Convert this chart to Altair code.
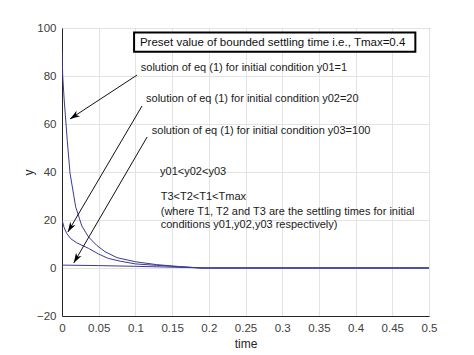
import math
import altair as alt
import pandas as pd

# ---- data ----
t03 = [0, 0.001, 0.003, 0.0055, 0.0072, 0.011, 0.0186, 0.027, 0.036, 0.047, 0.0586, 0.075, 0.1, 0.129, 0.16, 0.19, 0.5]
y03 = [90, 80, 70, 60, 53, 39.4, 25.5, 17.5, 13, 9.5, 6.8, 4.3, 2.6, 1.4, 0.6, 0, 0]

t02 = [0, 0.003, 0.0064, 0.012, 0.02, 0.036, 0.05, 0.063, 0.08, 0.1, 0.129, 0.16, 0.19, 0.5]
y02 = [20, 16.8, 14.4, 12.2, 10.5, 8.2, 5.8, 4.0, 2.8, 1.7, 1.1, 0.5, 0, 0]

t01 = [0, 0.05, 0.1, 0.15, 0.2, 0.5]
y01 = [1.2, 1.0, 0.7, 0.35, 0, 0]

x_ticks = [0, 0.05, 0.1, 0.15, 0.2, 0.25, 0.3, 0.35, 0.4, 0.45, 0.5]
y_ticks = [-20, 0, 20, 40, 60, 80, 100]

box_text = "Preset value of bounded settling time i.e., Tmax=0.4"
box_x = [0.0982, 0.4814]
box_y = [90.1, 98.1]
box_text_pos = [0.1062, 93.6]

label_texts = [
    "solution of eq (1) for initial condition y01=1",
    "solution of eq (1) for initial condition y02=20",
    "solution of eq (1) for initial condition y03=100",
    "y01<y02<y03",
    "T3<T2<T1<Tmax",
    "(where T1, T2 and T3 are the settling times for initial",
    "conditions y01,y02,y03 respectively)",
]
label_x = [0.1073, 0.1145, 0.1223, 0.1336, 0.1345, 0.1345, 0.1345]
label_y = [83.2, 70.3, 57.2, 39.9, 29.7, 23.5, 17.9]

arrow_x0 = [0.1023, 0.109, 0.116]
arrow_y0 = [80.4, 67.5, 54.6]
arrow_x1 = [0.0109, 0.008, 0.016]
arrow_y1 = [62.1, 15.0, 2.1]

# ---- layout ----
W, H = 367, 288
XD = [0, 0.5]
YD = [-20, 100]
FONT = "Liberation Sans"

rows = []
for name, ts, ys in (("y03", t03, y03), ("y02", t02, y02), ("y01", t01, y01)):
    for t, v in zip(ts, ys):
        rows.append({"series": name, "t": t, "y": v})
curves = pd.DataFrame(rows)

xs = alt.Scale(domain=XD, nice=False, zero=False)
ys_ = alt.Scale(domain=YD, nice=False, zero=False)

X_AX = alt.Axis(values=x_ticks, format="~g", title="time", grid=True,
                gridColor="#e3e3e3", domainColor="#262626", tickSize=0,
                labelFont=FONT, labelFontSize=11.5, labelColor="#404040",
                labelPadding=6, labelOverlap=False, labelFlush=False,
                titleFont=FONT, titleFontSize=12,
                titleFontWeight="normal", titleColor="#262626",
                titleX=W / 2, titleY=27, titleBaseline="middle")
Y_AX = alt.Axis(values=y_ticks, title="y", grid=True, gridColor="#e3e3e3",
                domainColor="#262626", tickSize=0, labelFont=FONT,
                labelFontSize=11.5, labelColor="#404040", labelPadding=6,
                labelOverlap=False, labelFlush=False,
                titleFont=FONT, titleFontSize=12, titleFontWeight="normal",
                titleColor="#262626", titleX=-34, titleY=H / 2,
                titleAngle=270, titleAlign="center", titleBaseline="middle")


def X(field):
    return alt.X(field, scale=xs, axis=X_AX, title="time")


def Y(field):
    return alt.Y(field, scale=ys_, axis=Y_AX, title="y")


lines = alt.Chart(curves).mark_line(strokeWidth=1, color="#3a3a92", clip=True).encode(
    x=X("t:Q"), y=Y("y:Q"), detail="series:N", order="t:Q")

box_df = pd.DataFrame({"x": [box_x[0]], "x2": [box_x[1]], "y": [box_y[0]], "y2": [box_y[1]]})
box = alt.Chart(box_df).mark_rect(fill="white", stroke="black", strokeWidth=2).encode(
    x=X("x:Q"), x2="x2", y=Y("y:Q"), y2="y2")

box_txt = alt.Chart(pd.DataFrame({"x": [box_text_pos[0]], "y": [box_text_pos[1]], "s": [box_text]})).mark_text(
    align="left", baseline="middle", font=FONT, fontSize=11.5, color="#111111").encode(
    x=X("x:Q"), y=Y("y:Q"), text="s:N")

labels = alt.Chart(pd.DataFrame({"x": label_x, "y": label_y, "s": label_texts})).mark_text(
    align="left", baseline="middle", font=FONT, fontSize=11, color="#1a1a1a").encode(
    x=X("x:Q"), y=Y("y:Q"), text="s:N")

# arrows: shaft + head
angles = []
for a, b, c, d in zip(arrow_x0, arrow_y0, arrow_x1, arrow_y1):
    dx = (c - a) * W / (XD[1] - XD[0])
    dy = -(d - b) * H / (YD[1] - YD[0])
    angles.append(math.degrees(math.atan2(dx, -dy)) % 360)

arr_df = pd.DataFrame({"x": arrow_x0, "y": arrow_y0, "x2": arrow_x1, "y2": arrow_y1, "ang": angles})
shafts = alt.Chart(arr_df).mark_rule(color="#111111", strokeWidth=1).encode(
    x=X("x:Q"), y=Y("y:Q"), x2="x2", y2="y2")

head_path = "M0,0 L0.6,1.9 L0,1.35 L-0.6,1.9 Z"
heads = alt.Chart(arr_df).mark_point(shape=head_path, filled=True, color="black", size=110, opacity=1).encode(
    x=X("x2:Q"), y=Y("y2:Q"), angle=alt.Angle("ang:Q", scale=None))

chart = alt.layer(lines, shafts, heads, box, box_txt, labels).properties(
    width=W, height=H,
    autosize=alt.AutoSizeParams(type="none"),
    padding={"left": 62, "top": 28, "right": 45, "bottom": 39},
    background="white",
).configure_view(stroke="#262626", strokeWidth=1)

chart.save("out.html", embed_options={"renderer": "svg", "actions": False})
